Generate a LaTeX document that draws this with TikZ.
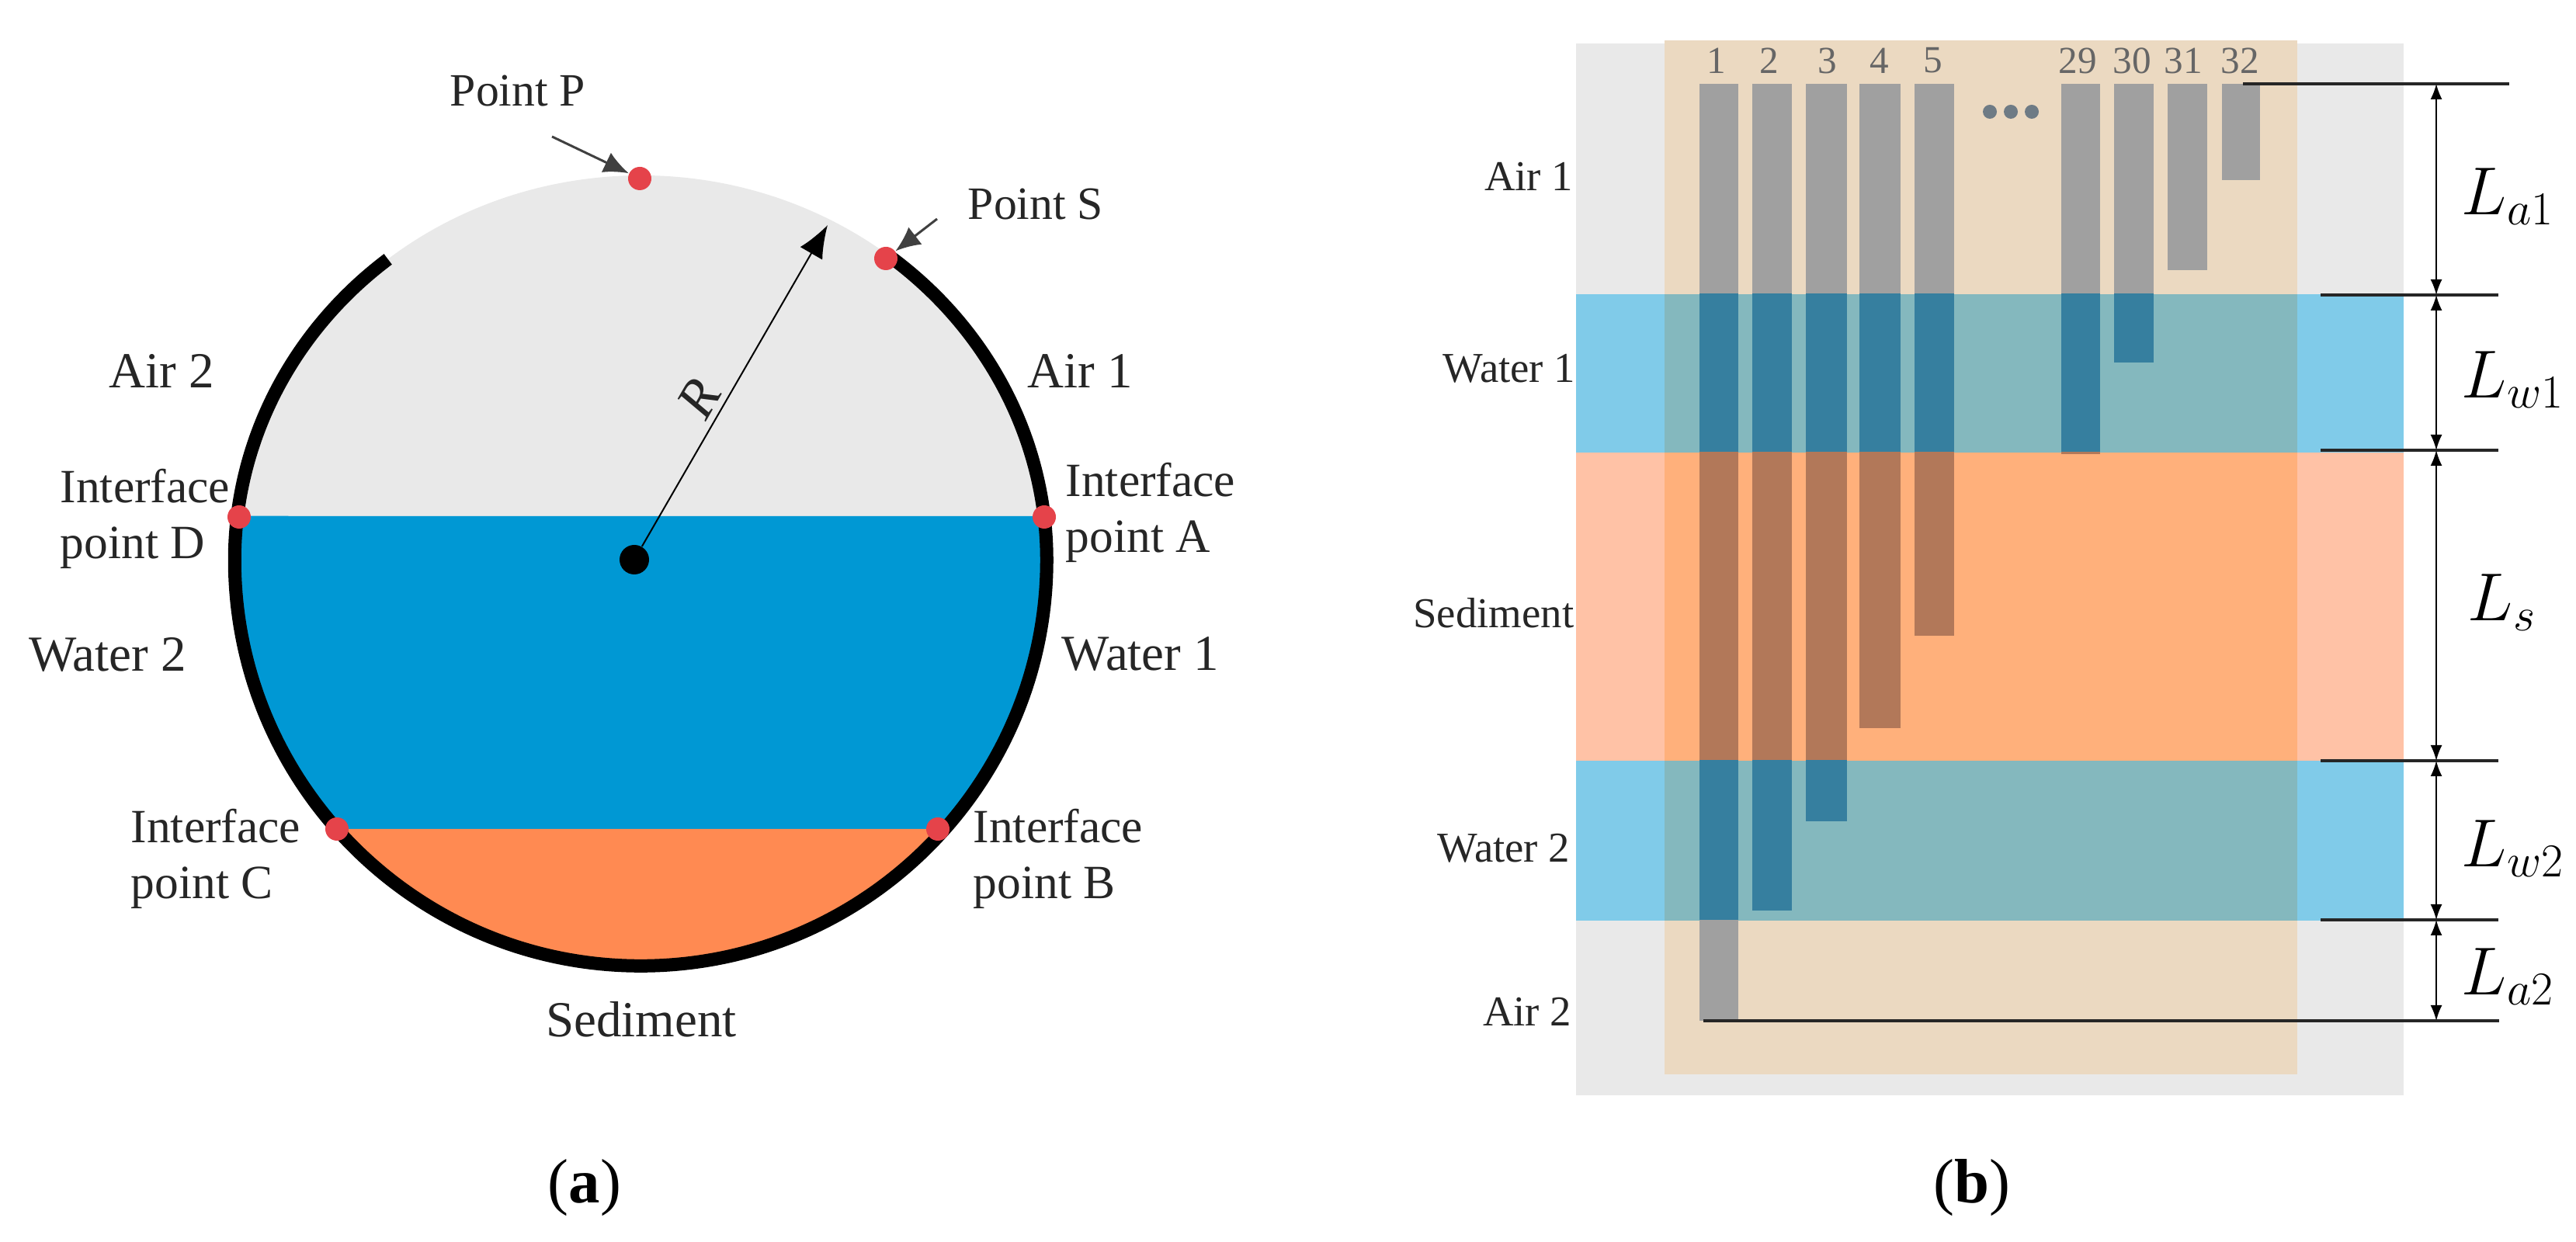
\documentclass[tikz,border=0pt]{standalone}
\usepackage{fontspec}
\setmainfont{Liberation Serif}
\usetikzlibrary{arrows.meta}
\definecolor{airgray}{HTML}{E9E9E9}
\definecolor{waterblue}{HTML}{0098D4}
\definecolor{sedorange}{HTML}{FF8A52}
\definecolor{dotred}{HTML}{E5434A}
\definecolor{waterpale}{HTML}{80CBE9}
\definecolor{sedpale}{HTML}{FFC2A6}
\definecolor{tanair}{HTML}{EBD9C1}
\definecolor{tanwater}{HTML}{84B8BE}
\definecolor{tansed}{HTML}{FFB07B}
\definecolor{barair}{HTML}{A0A0A0}
\definecolor{barwater}{HTML}{367F9F}
\definecolor{barsed}{HTML}{B27859}
\definecolor{dotsgray}{HTML}{6E7B85}
\tikzset{
  lab/.style={font=\fontsize{18.5}{21}\selectfont,text=black!85,inner sep=0pt},
  ifacelab/.style={font=\fontsize{17.5}{20.5}\selectfont,text=black!85,inner sep=0pt,align=left,anchor=west},
  sidelab/.style={font=\fontsize{15.6}{18}\selectfont,text=black!85,inner sep=0pt,anchor=east},
  numlab/.style={font=\fontsize{14}{16}\selectfont,text=black!60,inner sep=0pt},
  caplab/.style={font=\fontsize{23}{26}\selectfont,inner sep=0pt},
  lenlab/.style={font=\fontsize{23}{26}\selectfont,inner sep=0pt,anchor=west},
  reddot/.style={circle,fill=dotred,inner sep=0pt,minimum size=0.3cm},
  pointer/.style={draw=black!75,line width=0.03cm,-{Latex[length=0.32cm,width=0.28cm]}},
  tickline/.style={draw=black!85,line width=0.04cm},
  dimline/.style={draw=black,line width=0.02cm,{Latex[length=0.2cm,width=0.15cm]}-{Latex[length=0.2cm,width=0.15cm]}},
}
\begin{document}
\begin{tikzpicture}
   \useasboundingbox (0,0) rectangle (33.18,16) ;
   % (a)
   \fill[airgray] (13.45,9.35) arc[start angle=6.5,end angle=173.5,x radius=5.23,y radius=4.95] -- cycle ;
   \fill[waterblue] (13.45,9.35) arc[start angle=6.5,end angle=0,x radius=5.23,y radius=4.95]
      arc[start angle=0,end angle=-41.6,radius=5.23] -- (4.34,5.32)
      arc[start angle=-138.4,end angle=-180,radius=5.23]
      arc[start angle=180,end angle=173.5,x radius=5.23,y radius=4.95] -- cycle ;
   \fill[sedorange] (12.16,5.32) arc[start angle=-41.6,end angle=-138.4,radius=5.23] -- cycle ;
   \draw[line width=0.17cm] (11.40,12.74) arc[start angle=53,end angle=0,x radius=5.23,y radius=4.95]
      arc[start angle=0,end angle=-180,radius=5.23]
      arc[start angle=180,end angle=128.5,x radius=5.23,y radius=4.95] ;
   \node[reddot] (dotP) at (8.24,13.70) {} ;
   \node[reddot] (dotS) at (11.41,12.67) {} ;
   \node[reddot] (dotA) at (13.45,9.34) {} ;
   \node[reddot] (dotB) at (12.08,5.32) {} ;
   \node[reddot] (dotC) at (4.34,5.32) {} ;
   \node[reddot] (dotD) at (3.08,9.34) {} ;
   \node[circle,fill=black,inner sep=0pt,minimum size=0.38cm] (centre) at (8.17,8.79) {} ;
   \coordinate (rtip) at (10.66,13.10) ;
   \draw[line width=0.02cm,-{Latex[length=0.42cm,width=0.33cm]}] (centre) -- (rtip) ;
   \node[lab,rotate=60,font=\fontsize{20}{23}\selectfont\itshape] (rlab) at (9.00,10.87) {R} ;
   \node[lab,font=\fontsize{17}{20}\selectfont] (labP) at (6.67,14.83) {Point P} ;
   \node[lab,font=\fontsize{17}{20}\selectfont] (labS) at (13.34,13.37) {Point S} ;
   \coordinate (tailP) at (7.11,14.24) ;
   \coordinate (tailS) at (12.07,13.18) ;
   \draw[pointer] (tailP) -- (dotP) ;
   \draw[pointer] (tailS) -- (dotS) ;
   \node[lab] (air2) at (2.08,11.22) {Air 2} ;
   \node[lab] (air1) at (13.91,11.22) {Air 1} ;
   \node[lab] (water2) at (1.39,7.57) {Water 2} ;
   \node[lab] (water1) at (14.69,7.57) {Water 1} ;
   \node[ifacelab] (ifD) at (0.77,9.32) {Interface\\point D} ;
   \node[ifacelab] (ifA) at (13.72,9.40) {Interface\\point A} ;
   \node[ifacelab] (ifC) at (1.68,4.94) {Interface\\point C} ;
   \node[ifacelab] (ifB) at (12.53,4.94) {Interface\\point B} ;
   \node[lab] (sed) at (8.26,2.87) {Sediment} ;
   \node[caplab] (capa) at (7.53,0.70) {(\textbf{a})} ;
   % (b)
   \foreach \ytop/\ybot/\tantop/\tanbot/\colband/\coltan/\colbar in
      {15.44/12.21/15.48/12.21/airgray/tanair/barair,
       12.21/10.17/12.21/10.17/waterpale/tanwater/barwater,
       10.17/6.20/10.17/6.20/sedpale/tansed/barsed,
       6.20/4.14/6.20/4.14/waterpale/tanwater/barwater,
       4.14/1.89/4.14/2.16/airgray/tanair/barair} {
      \fill[\colband] (20.30,\ybot) rectangle (30.96,\ytop) ;
      \fill[\coltan] (21.44,\tanbot) rectangle (29.59,\tantop) ;
      \begin{scope}
         \clip (20.30,\ybot) rectangle (30.96,\ytop) ;
         \foreach \xl/\xr/\yend in {21.89/22.39/2.85,22.57/23.08/4.27,23.26/23.79/5.42,
            23.95/24.48/6.62,24.66/25.17/7.81,26.55/27.05/10.15,27.23/27.74/11.33,
            27.92/28.43/12.52,28.62/29.11/13.68}
            \fill[\colbar] (\xl,\yend) rectangle (\xr,14.92) ;
      \end{scope}
   }
   \foreach \n/\x in {1/22.11,2/22.79,3/23.54,4/24.21,5/24.90,29/26.76,30/27.46,31/28.12,32/28.85}
      \node[numlab] (num\n) at (\x,15.22) {\n} ;
   \foreach \x in {25.63,25.90,26.17}
      \fill[dotsgray] (\x,14.56) circle (0.09) ;
   \node[sidelab] (sideair1) at (20.27,13.73) {Air 1} ;
   \node[sidelab] (sidewater1) at (20.30,11.25) {Water 1} ;
   \node[sidelab] (sidesed) at (20.28,8.10) {Sediment} ;
   \node[sidelab] (sidewater2) at (20.23,5.07) {Water 2} ;
   \node[sidelab] (sideair2) at (20.25,2.97) {Air 2} ;
   \coordinate (t0a) at (28.89,14.92) ; \coordinate (t0b) at (32.32,14.92) ;
   \coordinate (t1a) at (29.89,12.20) ; \coordinate (t1b) at (32.18,12.20) ;
   \coordinate (t2a) at (29.89,10.20) ; \coordinate (t2b) at (32.18,10.20) ;
   \coordinate (t3a) at (29.89,6.20) ; \coordinate (t3b) at (32.18,6.20) ;
   \coordinate (t4a) at (29.89,4.15) ; \coordinate (t4b) at (32.18,4.15) ;
   \coordinate (t5a) at (21.94,2.85) ; \coordinate (t5b) at (32.19,2.85) ;
   \foreach \i in {0,...,5}
      \draw[tickline] (t\i a) -- (t\i b) ;
   \coordinate (d0) at (31.38,14.92) ;
   \coordinate (d1) at (31.38,12.20) ;
   \coordinate (d2) at (31.38,10.20) ;
   \coordinate (d3) at (31.38,6.20) ;
   \coordinate (d4) at (31.38,4.15) ;
   \coordinate (d5) at (31.38,2.85) ;
   \draw[dimline] (d0) -- (d1) ;
   \draw[dimline] (d1) -- (d2) ;
   \draw[dimline] (d2) -- (d3) ;
   \draw[dimline] (d3) -- (d4) ;
   \draw[dimline] (d4) -- (d5) ;
   \node[lenlab] (la1) at (31.70,13.47) {$L_{a1}$} ;
   \node[lenlab] (lw1) at (31.70,11.11) {$L_{w1}$} ;
   \node[lenlab] (ls) at (31.78,8.24) {$L_{s}$} ;
   \node[lenlab] (lw2) at (31.70,5.07) {$L_{w2}$} ;
   \node[lenlab] (la2) at (31.70,3.42) {$L_{a2}$} ;
   \node[caplab] (capb) at (25.40,0.70) {(\textbf{b})} ;
\end{tikzpicture}
\end{document}
